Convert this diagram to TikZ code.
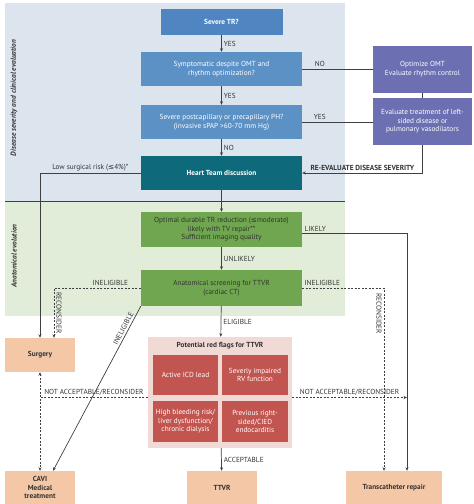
\documentclass[tikz,border=0pt]{standalone}
\usepackage{fontspec}
\setmainfont{PT Sans}
\newfontfamily\symfont{DejaVu Sans}
\usetikzlibrary{arrows.meta,calc,positioning}
\definecolor{PanelBlue}{HTML}{DCE4EE}
\definecolor{PanelGreen}{HTML}{E2EDD9}
\definecolor{StepBlue}{HTML}{4F86C1}
\definecolor{StepBlueSoft}{HTML}{5C91C6}
\definecolor{TeamTeal}{HTML}{0E6A7B}
\definecolor{SideViolet}{HTML}{6C70B2}
\definecolor{AnatGreen}{HTML}{6FA64F}
\definecolor{FlagSoft}{HTML}{F1DAD6}
\definecolor{FlagRed}{HTML}{C2554F}
\definecolor{OutPeach}{HTML}{F4C7A6}
\definecolor{LineDark}{HTML}{404040}
\definecolor{TextDark}{HTML}{333333}
\newcommand{\boxfont}{\fontsize{7.3}{8.6}\selectfont}
\newcommand{\lblfont}{\fontsize{7.3}{8.4}\selectfont}

\begin{document}
\begin{tikzpicture}[
        x=1pt, y=-1pt,
        font=\boxfont,
        flow/.style={
            align=center,
            inner sep=2pt,
            text=white,
            minimum width=161pt,
            minimum height=34pt
        },
        side/.style={flow, fill=SideViolet, minimum width=99pt, minimum height=47pt},
        anat/.style={flow, fill=AnatGreen, text=TextDark, minimum height=35pt},
        flag/.style={fill=FlagRed, text=white, align=center, inner sep=2pt,
            minimum width=65pt, minimum height=40pt},
        outcome/.style={fill=OutPeach, text=TextDark, align=center, inner sep=2pt,
            font=\boxfont\bfseries, minimum width=70pt, minimum height=33pt},
        lbl/.style={font=\lblfont, text=TextDark, inner sep=2pt},
        arr/.style={-{Stealth[length=3.5pt,width=3pt]}, line width=0.7pt, draw=LineDark},
        dasharr/.style={arr, dash pattern=on 2pt off 1.5pt},
        plain/.style={line width=0.7pt, draw=LineDark}
    ]
        \useasboundingbox (0,0) rectangle (474,504);
        \fill[PanelBlue] (5,3) rectangle (345,201);
        \fill[PanelGreen] (5,201) rectangle (345,316);
        \draw[line width=1pt, LineDark] (5,201) -- (345,201);
        \node[lbl, font=\lblfont\bfseries\itshape, rotate=90] (sevlab) at (14,98)
            {Disease severity and clinical evaluation};
        \node[lbl, font=\lblfont\bfseries\itshape, rotate=90] (anatlab) at (14,256)
            {Anatomical evolution};

        \node[flow, fill=StepBlue, font=\boxfont\bfseries, minimum width=122pt, minimum height=26pt] (sevtr) at (221.5,22) {Severe TR?};
        \node[flow, fill=StepBlueSoft] (sympt) at (221.5,69) {Symptomatic despite OMT and\\rhythm optimization?};
        \node[flow, fill=StepBlueSoft] (ph) at (221.5,122) {Severe postcapillary or precapillary PH?\\(invasive sPAP >60-70 mm Hg)};
        \node[flow, fill=TeamTeal, font=\boxfont\bfseries] (heart) at (221.5,173) {Heart Team discussion};
        \node[side] (omt) at (422.5,69) {Optimize OMT\\Evaluate rhythm control};
        \node[side] (evalt) at (422.5,121.5) {Evaluate treatment of left-\\sided disease or\\pulmonary vasodilators};
        \node[anat] (optimal) at (221.5,229.5) {Optimal durable TR reduction ({\symfont ≤}moderate)\\likely with TV repair**\\Sufficient imaging quality};
        \node[anat, minimum height=36pt] (screen) at (221.5,288) {Anatomical screening for TTVR\\(cardiac CT)};

        \node[fill=FlagSoft, minimum width=144pt, minimum height=111pt, inner sep=0pt] (flags) at (220,392.5) {};
        \node[text=TextDark, font=\boxfont\bfseries] (flagtitle) at (220,346) {Potential red flags for TTVR};
        \node[flag] (icd) at (185.5,375) {Active ICD lead};
        \node[flag, minimum width=66pt] (rvfun) at (255,375) {Severly impaired\\RV function};
        \node[flag, minimum height=41pt] (bleed) at (185.5,421.5) {High bleeding risk/\\liver dysfunction/\\chronic dialysis};
        \node[flag, minimum width=66pt, minimum height=41pt] (endoc) at (255,421.5) {Previous right-\\sided/CIED\\endocarditis};

        \node[outcome, minimum height=34pt] (surgery) at (40,355) {Surgery};
        \node[outcome] (cavi) at (40,487.5) {CAVI\\Medical\\treatment};
        \node[outcome] (ttvr) at (222,487.5) {TTVR};
        \node[outcome, minimum width=96pt] (tcrep) at (394,487.5) {Transcatheter repair};

        \coordinate (likelystart) at ([yshift=-4pt]optimal.east);
        \coordinate (likelydrop) at ($(tcrep.north)+(13,0)$);
        \coordinate (rightdrop) at ($(tcrep.north)+(-10,0)$);
        \coordinate (leftdrop) at ($(surgery.north)+(14,0)$);
        \coordinate (cavidrop) at ($(cavi.north)+(13,0)$);
        \coordinate (flagsw) at ([yshift=-5pt]flags.west);
        \coordinate (flagse) at ([yshift=-5pt]flags.east);

        \draw[arr] (sevtr) -- (sympt) node[lbl, midway, right] {YES};
        \draw[arr] (sympt) -- (ph) node[lbl, midway, right] {YES};
        \draw[arr] (ph) -- (heart) node[lbl, midway, right] {NO};
        \draw[plain] (sympt) -- (omt) node[lbl, pos=0.25, above] {NO};
        \draw[plain] (ph.east) -- (ph.east -| evalt.west) node[lbl, pos=0.25, above] {YES};
        \draw[plain] (omt) -- (evalt);
        \draw[arr] (evalt.south) |- (heart.east)
            node[lbl, pos=0.75, above, font=\lblfont\bfseries] {RE-EVALUATE DISEASE SEVERITY};
        \draw[arr] (heart.west) -| (surgery.north)
            node[lbl, pos=0.25, above] {Low surgical risk ({\symfont ≤}4\%)*};
        \draw[arr] (heart) -- (optimal);
        \draw[arr] (optimal) -- (screen) node[lbl, midway, right] {UNLIKELY};
        \draw[arr] (likelystart) -| (likelydrop)
            node[lbl, pos=0, anchor=south west] {LIKELY};
        \draw[dasharr] (screen.west) -| (leftdrop)
            node[lbl, pos=0.06, anchor=south east] {INELIGIBLE}
            node[lbl, pos=0.75, rotate=-90, anchor=south] {RECONSIDER};
        \draw[dasharr] (screen.east) -| (rightdrop)
            node[lbl, pos=0, anchor=south west] {INELIGIBLE}
            node[lbl, pos=0.57, rotate=-90, anchor=north] {RECONSIDER};
        \draw[arr] (screen.south west) -- (cavidrop)
            node[lbl, pos=0.15, rotate=61.7, anchor=south] {INELIGIBLE};
        \draw[arr] (screen) -- (flags) node[lbl, midway, right] {ELIGIBLE};
        \draw[arr] (flags) -- (ttvr) node[lbl, midway, right] {ACCEPTABLE};
        \draw[dasharr, {Stealth[length=3.5pt,width=3pt]}-{Stealth[length=3.5pt,width=3pt]}] (surgery) -- (cavi);
        \draw[plain, dash pattern=on 2pt off 1.5pt] (flagsw) -- (flagsw -| surgery.south)
            node[lbl, midway, above] {NOT ACCEPTABLE/RECONSIDER};
        \draw[dasharr] (flagse) -- (flagse -| likelydrop)
            node[lbl, midway, above] {NOT ACCEPTABLE/RECONSIDER};
    \end{tikzpicture}
\end{document}
